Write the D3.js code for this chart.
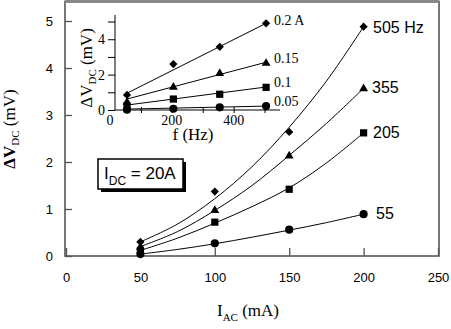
<!DOCTYPE html>
<html><head><meta charset="utf-8">
<script src="https://cdn.jsdelivr.net/npm/d3@7/dist/d3.min.js"></script>
<style>body{margin:0;background:#fff}svg{display:block}</style>
</head><body>
<svg id="c" width="451" height="329"></svg>
<script>
// ---- main chart data ----
const currentsMA = [50, 100, 150, 200];
const freqNames = ["55", "205", "355", "505 Hz"];
const v55  = [0.04, 0.27, 0.56, 0.89];
const v205 = [0.12, 0.72, 1.42, 2.62];
const v355 = [0.20, 0.98, 2.14, 3.57];
const v505 = [0.30, 1.37, 2.64, 4.88];
// fitted curves
const fitI    = [50, 75, 100, 125, 150, 175, 200];
const fit55   = [0.04, 0.14, 0.26, 0.40, 0.55, 0.71, 0.89];
const fit205  = [0.12, 0.38, 0.70, 1.05, 1.45, 1.98, 2.62];
const fit355  = [0.20, 0.52, 0.97, 1.50, 2.14, 2.82, 3.57];
const fit505  = [0.30, 0.68, 1.22, 1.90, 2.74, 3.72, 4.88];
const mainXTicks = [0, 50, 100, 150, 200, 250];
const mainYTicks = [0, 1, 2, 3, 4, 5];
// ---- inset data ----
const freqHz = [55, 205, 355, 505];
const ampNames = ["0.05", "0.1", "0.15", "0.2 A"];
const i005 = [0.02, 0.07, 0.15, 0.22];
const i01  = [0.23, 0.62, 0.89, 1.28];
const i015 = [0.47, 1.32, 2.10, 2.67];
const i02  = [0.85, 2.60, 3.57, 4.90];
const insFitF = [55, 505];
const insFit005 = [0.05, 0.22];
const insFit01  = [0.28, 1.30];
const insFit015 = [0.62, 2.70];
const insFit02  = [0.95, 4.90];
const insXTicks = [0, 100, 200, 300, 400, 500];
const insXLabels = [0, 200, 400];
const insYTicks = [0, 1, 2, 3, 4, 5];
const insYLabels = [0, 2, 4];

const svg = d3.select("#c");
const SANS = "'Liberation Sans', Arial, sans-serif";
const SERIF = "'Liberation Serif', 'Times New Roman', serif";

// symbols
const sym = {
  diamond: d3.symbol().type(d3.symbolSquare).size(34)(),
  triangle: d3.symbol().type(d3.symbolTriangle).size(34)(),
  square: d3.symbol().type(d3.symbolSquare).size(52)(),
  circle: d3.symbol().type(d3.symbolCircle).size(52)()
};
function marker(g, x, y, kind) {
  g.append("path").attr("d", sym[kind])
    .attr("transform", `translate(${x},${y})` + (kind === "diamond" ? " rotate(45)" : "") + (kind==="triangle"?" translate(0,0.5)":""))
    .attr("fill", "#000");
}

// ---- main scales ----
const x = d3.scaleLinear([0, 250], [66, 438]);
const y = d3.scaleLinear([0, 5], [256, 21]);

// frame
svg.append("rect").attr("x", 65).attr("y", 1.5).attr("width", 374).attr("height", 254.5)
  .attr("fill", "none").attr("stroke", "#555").attr("stroke-width", 1.6);
svg.append("line").attr("x1", 65).attr("x2", 439).attr("y1", 1.5).attr("y2", 1.5)
  .attr("stroke", "#888").attr("stroke-width", 3);

const gx = svg.append("g").attr("transform", "translate(0,256)")
  .call(d3.axisBottom(x).tickValues(mainXTicks).tickSize(-8).tickPadding(17).tickFormat(d3.format("d")));
gx.select(".domain").remove();
gx.selectAll("line").attr("stroke", "#555").attr("stroke-width", 1.3);
gx.selectAll("text").attr("font-family", SANS).attr("font-size", 13).attr("fill", "#000");

const gy = svg.append("g").attr("transform", "translate(65,0)")
  .call(d3.axisLeft(y).tickValues(mainYTicks).tickSize(-7).tickPadding(12).tickFormat(d3.format("d")));
gy.select(".domain").remove();
gy.selectAll("line").attr("stroke", "#555").attr("stroke-width", 1.3);
gy.selectAll("text").attr("font-family", SANS).attr("font-size", 13).attr("fill", "#000");

// fitted curves
const mainSeries = [
  {vals: v55, fit: fit55, kind: "circle", name: freqNames[0], lx: 376, ly: 219},
  {vals: v205, fit: fit205, kind: "square", name: freqNames[1], lx: 373, ly: 138},
  {vals: v355, fit: fit355, kind: "triangle", name: freqNames[2], lx: 372, ly: 93},
  {vals: v505, fit: fit505, kind: "diamond", name: freqNames[3], lx: 373, ly: 33}
];
const curve = d3.line().x((d, i) => x(fitI[i])).y(d => y(d)).curve(d3.curveCatmullRom);
const mg = svg.append("g");
mainSeries.forEach(s => {
  mg.append("path").attr("d", curve(s.fit)).attr("fill", "none").attr("stroke", "#000").attr("stroke-width", 1);
  s.vals.forEach((v, i) => marker(mg, x(currentsMA[i]), y(v), s.kind));
  mg.append("text").attr("x", s.lx).attr("y", s.ly).text(s.name)
    .attr("font-family", SANS).attr("font-size", 16).attr("fill", "#000");
});

// main axis labels
const yl = svg.append("text").attr("transform", "translate(15,129) rotate(-90)")
  .attr("text-anchor", "middle").attr("font-family", SERIF).attr("font-size", 17)
  .attr("font-weight", "bold").attr("fill", "#000");
yl.append("tspan").text("ΔV");
yl.append("tspan").text("DC").attr("font-size", 11).attr("font-weight", "normal").attr("dy", 4);
yl.append("tspan").text(" (mV)").attr("font-weight", "normal").attr("dy", -4);

const xl = svg.append("text").attr("x", 248).attr("y", 316)
  .attr("text-anchor", "middle").attr("font-family", SERIF).attr("font-size", 17).attr("fill", "#000");
xl.append("tspan").text("I");
xl.append("tspan").text("AC").attr("font-size", 11).attr("dy", 5);
xl.append("tspan").text(" (mA)").attr("dy", -5);

// I_DC box
svg.append("rect").attr("x", 101).attr("y", 162).attr("width", 85).attr("height", 30).attr("fill", "#000");
svg.append("rect").attr("x", 98).attr("y", 159).attr("width", 85).attr("height", 30)
  .attr("fill", "#fff").attr("stroke", "#000").attr("stroke-width", 1.5);
const bt = svg.append("text").attr("x", 104).attr("y", 179).attr("font-family", SANS).attr("font-size", 17).attr("fill", "#000");
bt.append("tspan").text("I");
bt.append("tspan").text("DC").attr("font-size", 12).attr("dy", 6);
bt.append("tspan").text(" = 20A").attr("dy", -6);

// ---- inset ----
const ix = d3.scaleLinear([0, 550], [110, 280]);
const iy = d3.scaleLinear([0, 5.37], [110, 15]);
const axX = 115;
const ig = svg.append("g");
// y axis
const igy = ig.append("g").attr("transform", `translate(${axX},0)`)
  .call(d3.axisLeft(iy).tickValues(insYTicks).tickSize(7).tickPadding(3)
    .tickFormat(d => insYLabels.includes(d) ? d : ""));
igy.select(".domain").attr("d", `M0,${iy.range()[1]}V${iy.range()[0]}`);
igy.selectAll("text").attr("font-family", SERIF).attr("font-size", 14).attr("fill", "#000");
// x axis
ig.append("line").attr("x1", axX).attr("x2", ix.range()[1]).attr("y1", iy(0)).attr("y2", iy(0))
  .attr("stroke", "#000").attr("stroke-width", 1);
const igx = ig.append("g").attr("transform", `translate(0,${iy(0)})`)
  .call(d3.axisBottom(ix).tickValues(insXTicks.filter(d => d > 0)).tickSize(3).tickFormat(""));
igx.select(".domain").remove();
const igx2 = ig.append("g").attr("transform", `translate(0,${iy(0)})`)
  .call(d3.axisBottom(ix).tickValues(insXTicks.filter(d => d > 0)).tickSize(-3).tickFormat(""));
igx2.select(".domain").remove();
ig.selectAll(".tick line").attr("stroke", "#000");
ig.append("g").selectAll("text").data(insXLabels).join("text")
  .attr("x", d => ix(d)).attr("y", 125).attr("text-anchor", "middle")
  .attr("font-family", SERIF).attr("font-size", 14).attr("fill", "#000").text(d => d);

const insSeries = [
  {vals: i005, fit: insFit005, kind: "circle", name: ampNames[0], ly: 106},
  {vals: i01, fit: insFit01, kind: "square", name: ampNames[1], ly: 87},
  {vals: i015, fit: insFit015, kind: "triangle", name: ampNames[2], ly: 63},
  {vals: i02, fit: insFit02, kind: "diamond", name: ampNames[3], ly: 25}
];
const iline = d3.line().x((d, i) => ix(insFitF[i])).y(d => iy(d));
insSeries.forEach(s => {
  ig.append("path").attr("d", iline(s.fit)).attr("fill", "none").attr("stroke", "#000").attr("stroke-width", 1);
  s.vals.forEach((v, i) => marker(ig, ix(freqHz[i]), iy(v), s.kind));
  ig.append("text").attr("x", 274).attr("y", s.ly).text(s.name)
    .attr("font-family", SERIF).attr("font-size", 14).attr("fill", "#000");
});
// inset axis labels
ig.append("text").attr("x", 193).attr("y", 140).attr("text-anchor", "middle")
  .attr("font-family", SERIF).attr("font-size", 17).attr("fill", "#000").text("f (Hz)");
const iyl = ig.append("text").attr("transform", "translate(92,68) rotate(-90)")
  .attr("text-anchor", "middle").attr("font-family", SERIF).attr("font-size", 17).attr("fill", "#000");
iyl.append("tspan").text("ΔV");
iyl.append("tspan").text("DC").attr("font-size", 11).attr("dy", 4);
iyl.append("tspan").text(" (mV)").attr("dy", -4);
</script>
</body></html>
